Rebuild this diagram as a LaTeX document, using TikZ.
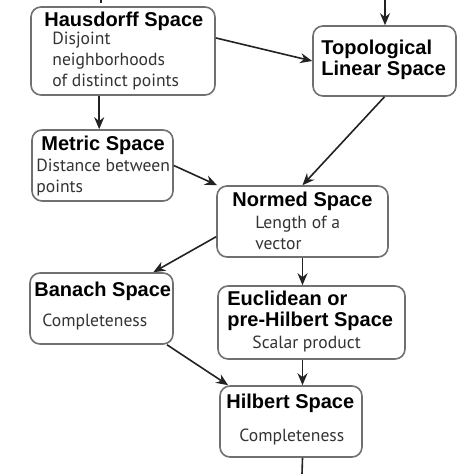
\documentclass[tikz,border=0pt]{standalone}
\usepackage{fontspec}
\usepackage{xcolor}
\setmainfont{Liberation Sans}
\newfontfamily\notefont{PT Sans}
\usetikzlibrary{arrows.meta,positioning}
\definecolor{boxgray}{HTML}{707070}
\definecolor{arrowdark}{HTML}{222222}
\definecolor{notegray}{HTML}{333333}

\begin{document}
\begin{tikzpicture}[x=0.5pt,y=-0.5pt,>={Stealth[length=6pt,width=5pt]},
  spacebox/.style={draw=boxgray,line width=0.8pt,rounded corners=5pt,inner sep=0pt},
  heading/.style={font=\bfseries\fontsize{10}{10.5}\selectfont,text=black,inner sep=0pt,anchor=west,align=left},
  note/.style={font=\notefont\fontsize{8.8}{10.5}\selectfont,text=notegray,inner sep=0pt,anchor=west,align=left},
  link/.style={->,arrowdark,line width=0.8pt}]
  \useasboundingbox (0,0) rectangle (474,474);
  % boxes
  \node[spacebox,minimum width=92pt,minimum height=44pt] (haus) at (123,51) {};
  \node[spacebox,minimum width=71.5pt,minimum height=35pt] (topo) at (384.5,61) {};
  \node[spacebox,minimum width=70.5pt,minimum height=35.5pt] (metric) at (102.5,165.5) {};
  \node[spacebox,minimum width=85.5pt,minimum height=35.5pt] (normed) at (302.5,221.5) {};
  \node[spacebox,minimum width=71.5pt,minimum height=35.5pt] (banach) at (101.5,308.5) {};
  \node[spacebox,minimum width=93.5pt,minimum height=36.5pt] (euclid) at (311.5,322.5) {};
  \node[spacebox,minimum width=71pt,minimum height=35.5pt] (hilbert) at (291,421.5) {};
  % texts
  \node[heading] (haustitle) at (44,21) {Hausdorff Space};
  \node[note] (hausnote) at (52,61) {Disjoint\\neighborhoods\\of distinct points};
  \node[heading] (topotitle) at (321,60) {Topological\\Linear Space};
  \node[heading] (metrictitle) at (41,145) {Metric Space};
  \node[note] (metricnote) at (36,177.5) {Distance between\\points};
  \node[heading] (normedtitle) at (232,201) {Normed Space};
  \node[note] (normednote) at (255,232.5) {Length of a\\vector};
  \node[heading] (banachtitle) at (34,291) {Banach Space};
  \node[note] (banachnote) at (42,322) {Completeness};
  \node[heading] (euclidtitle) at (227,310.5) {Euclidean or\\pre-Hilbert Space};
  \node[note] (euclidnote) at (252,344) {Scalar product};
  \node[heading] (hilberttitle) at (226,403) {Hilbert Space};
  \node[note] (hilbertnote) at (239,437) {Completeness};
  % connectors
  \coordinate (inhaus) at (101,0);
  \coordinate (intopo) at (385,0);
  \coordinate (outhilbert) at (302,474);
  \draw[arrowdark,line width=0.8pt] (inhaus) -- ([yshift=1.5pt]inhaus |- haus.north);
  \draw[link] (intopo) -- (intopo |- topo.north);
  \draw[link] (haus.8) -- (topo.west);
  \draw[link] (haus.242) -- (haus.242 |- metric.north);
  \draw[link] (topo.south) -- (normed.north);
  \draw[link] (metric.east) -- (normed.157);
  \draw[link] (normed.190) -- (banach.35);
  \draw[link] (normed.south) -- (normed.south |- euclid.north);
  \draw[link] (normed.south |- euclid.south) -- (normed.south |- hilbert.north);
  \draw[link] (banach.331) -- (hilbert.150);
  \draw[arrowdark,line width=0.8pt] (normed.south |- hilbert.south) -- (outhilbert);
\end{tikzpicture}
\end{document}
